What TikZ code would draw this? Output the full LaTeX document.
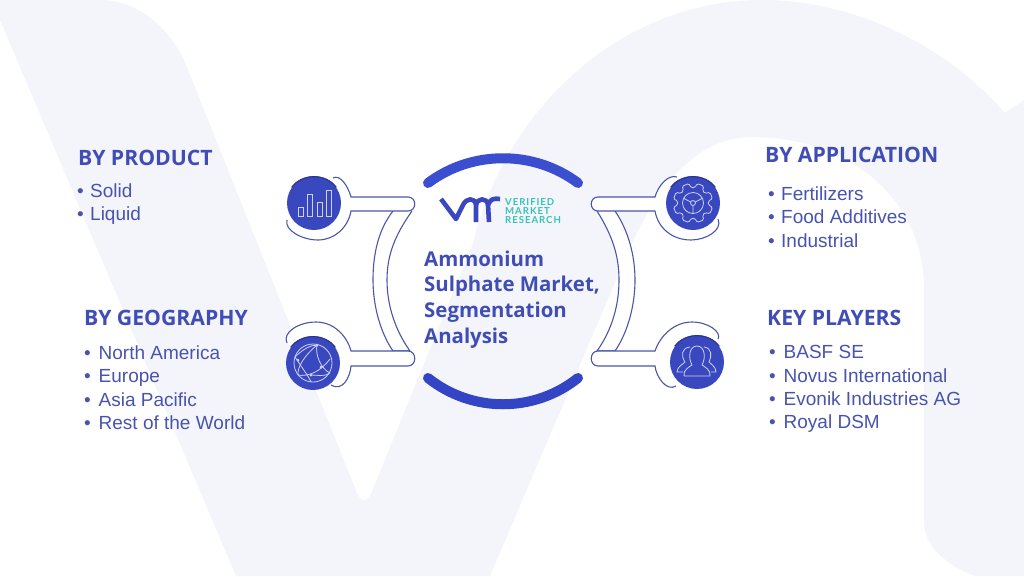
\documentclass[tikz,border=0pt]{standalone}
\usepackage{xcolor}
\usepackage{fontspec}
\usepackage{tikz}
\setmainfont{Liberation Sans}
\newfontfamily\headfont{Open Sans}
\newfontfamily\logofont[LetterSpace=10]{Lato}
\definecolor{paleback}{HTML}{F4F5FB}
\definecolor{inkblue}{HTML}{3F4DB4}
\definecolor{bodyblue}{HTML}{4853AE}
\definecolor{discblue}{HTML}{3A48C0}
\definecolor{discdark}{HTML}{2A3592}
\definecolor{arcblue}{HTML}{3A4ECF}
\definecolor{arcdeep}{HTML}{3345C4}
\definecolor{lineblue}{HTML}{4B56A6}
\definecolor{iconline}{HTML}{CDD2F2}
\definecolor{logoteal}{HTML}{35C2B8}
\newcommand{\bul}[1]{\makebox[#1][l]{\textbullet}}
\tikzset{
	heading/.style={anchor=base west, inner sep=0pt, text=inkblue, font=\headfont\bfseries\fontsize{21.2}{24}\selectfont},
	itemlist/.style={anchor=north west, inner sep=0pt, align=left, text=bodyblue, font=\fontsize{19}{23.3}\selectfont},
	titletext/.style={anchor=north west, inner sep=0pt, align=left, text=inkblue, font=\headfont\bfseries\fontsize{20.4}{25.6}\selectfont},
	logotext/.style={anchor=base west, inner sep=0pt, text=logoteal, font=\logofont\bfseries\fontsize{9.6}{9}\selectfont},
	disc/.style={circle, fill=discblue, minimum size=54pt, inner sep=0pt},
	outline/.style={draw=lineblue, line width=1.1pt, fill=white},
	icon/.style={draw=iconline, line width=0.8pt},
	bigarc/.style={draw=arcblue, line width=10pt, line cap=round},
	logostroke/.style={draw=discblue, line width=4.6pt, line join=round},
}
\begin{document}
\begin{tikzpicture}[x=1pt,y=-1pt]
	\useasboundingbox (0,0) rectangle (1024,576);
	% background letters
	\fill[paleback] (0,0) -- (100,0) .. controls (140,0) and (170,30) .. (185,62) -- (355,488)
		.. controls (360,504) and (368,504) .. (373,489) -- (473,243)
		.. controls (505,110) and (620,0) .. (762,0) .. controls (860,0) and (950,50) .. (1005,113)
		-- (1024,100) -- (1024,576) -- (975,576) .. controls (945,565) and (924,545) .. (924,521) -- (924,288)
		.. controls (924,200) and (850,137) .. (752,137) .. controls (700,137) and (660,180) .. (629,250)
		-- (490,576) -- (236,576) -- (0,20) -- cycle;
	% brackets between the bars
	\draw[outline] (393,211) .. controls (378,230) and (373,255) .. (373,280) .. controls (373,305) and (380,332) .. (393,351)
		-- (410,351) .. controls (395,330) and (387,305) .. (387,280) .. controls (387,255) and (395,235) .. (412,211);
	\draw[outline] (615,211) .. controls (628,230) and (635,255) .. (635,280) .. controls (635,305) and (628,332) .. (615,351)
		-- (597,351) .. controls (612,330) and (619,305) .. (619,280) .. controls (619,255) and (612,235) .. (597,211);
	% top left connector
	\draw[outline] (333,178) .. controls (340,174) and (348,186) .. (351,197) -- (408,197)
		.. controls (417,197) and (417,211) .. (408,211) -- (351,211)
		.. controls (348,228) and (334,240) .. (318,240) .. controls (302,240) and (284,230) .. (287,220);
	% bottom left connector
	\draw[outline] (287,343) .. controls (282,333) and (298,322) .. (316,322) .. controls (334,322) and (347,336) .. (351,351) -- (408,351)
		.. controls (417,351) and (417,366) .. (408,366) -- (351,366)
		.. controls (350,378) and (342,392) .. (331,385);
	% top right connector
	\draw[outline] (677,177) .. controls (668,174) and (658,186) .. (655,197) -- (598,197)
		.. controls (589,197) and (589,211) .. (598,211) -- (655,211)
		.. controls (658,228) and (672,240) .. (691,240) .. controls (706,240) and (723,230) .. (718,219);
	% bottom right connector
	\draw[outline] (718,339) .. controls (722,332) and (708,322) .. (692,322) .. controls (674,322) and (660,336) .. (655,351) -- (598,351)
		.. controls (589,351) and (589,366) .. (598,366) -- (655,366)
		.. controls (656,376) and (666,392) .. (676,386);
	% centre arcs
	\draw[bigarc] (428,183) .. controls (472,150) and (534,150) .. (578,183);
	\draw[bigarc, draw=arcdeep] (428,378) .. controls (472,413) and (534,413) .. (578,378);
	% discs
	\node[disc] at (314,203) (prodicon){};
	\node[disc] at (313,363) (geoicon){};
	\node[disc] at (693,203) (appicon){};
	\node[disc] at (697,362) (keyicon){};
	\foreach \n in {prodicon, geoicon, appicon, keyicon}
		\draw[discdark, line width=1.2pt] (\n.145) to[bend left=55] (\n.35);
	% bar chart icon
	\foreach \xa/\ya in {298/207, 307/194, 317/202, 326/190}
		\draw[icon] (\xa,\ya) rectangle (\xa+5,216);
	% gear icon
	\begin{scope}[shift={(693,203)}]
		\draw[icon, rounded corners=1.5pt] (7.5:15.5) \foreach \a in {0,45,...,315} {
			-- (\a+7.5:15.5) -- (\a+12:20) -- (\a+33:20) -- (\a+37.5:15.5)
		} -- cycle;
		\draw[icon] (0,0) circle (10.5);
		\draw[icon] (0,0) circle (2.5);
		\draw[icon] (-9,-4.5) -- (-2.3,-1) (9,-4.5) -- (2.3,-1) (0,2.5) -- (0,10.5);
	\end{scope}
	% globe icon
	\begin{scope}[shift={(313,363)}]
		\draw[icon] (0,0) circle (19);
		\draw[icon] (-18,-6) .. controls (-10,-14) and (-2,-18) .. (4,-18) .. controls (-8,-8) and (-16,4) .. (-15,12);
		\draw[icon] (-18,-6) .. controls (-10,6) and (-4,14) .. (-2,19);
		\draw[icon] (4,-18) .. controls (2,-8) and (8,6) .. (17,10);
		\draw[icon] (-15,12) .. controls (-4,14) and (8,8) .. (17,-4);
		\draw[icon] (-2,12) .. controls (4,12) and (12,14) .. (17,10);
		\fill[iconline] (4,-18) circle (1.5) (-2,12) circle (1.5) (8,4) circle (1.5) (-15,-3) circle (1.5);
	\end{scope}
	% people icon
	\draw[icon, line join=round] (684,376) -- (710,376) .. controls (711,370) and (705,367) .. (702,365) .. controls (706,358) and (705,346) .. (697,346)
		.. controls (689,346) and (688,358) .. (692,365) .. controls (689,367) and (683,370) .. (684,376);
	\draw[icon, line join=round] (683,372) -- (677,372) .. controls (677,367) and (683,364) .. (685,362) .. controls (681,356) and (681,348) .. (690,347);
	\draw[icon, line join=round] (711,372) -- (716,372) .. controls (716,367) and (711,364) .. (709,362) .. controls (712,356) and (712,348) .. (704,347);
	% logo
	\draw[logostroke] (441,199) -- (456,219) -- (463,205) .. controls (466,198) and (475,197) .. (476,205) -- (476,222);
	\draw[logostroke] (476,205) .. controls (477,198) and (487,197) .. (488,205) -- (489,222);
	\draw[logostroke] (488,205) .. controls (490,199) and (494,198) .. (500,199);
	\node[logotext] at (505,205) (logoa){VERIFIED};
	\node[logotext] at (505,214) (logob){MARKET};
	\node[logotext] at (505,223) (logoc){RESEARCH};
	% centre title
	\node[titletext] at (424,250.5) (title){Ammonium\\Sulphate Market,\\Segmentation\\Analysis};
	% left side
	\node[heading] at (78,165) (prodhead){BY PRODUCT};
	\node[itemlist] at (77,183.5) (prodlist){\bul{13pt}Solid\\\bul{13pt}Liquid};
	\node[heading] at (84,325) (geohead){BY GEOGRAPHY};
	\node[itemlist] at (84,345.5) (geolist){\bul{14.5pt}North America\\\bul{14.5pt}Europe\\\bul{14.5pt}Asia Pacific\\\bul{14.5pt}Rest of the World};
	% right side
	\node[heading] at (765,162.5) (apphead){BY APPLICATION};
	\node[itemlist] at (768,186.5) (applist){\bul{13pt}Fertilizers\\\bul{13pt}Food Additives\\\bul{13pt}Industrial};
	\node[heading] at (767,325) (keyhead){KEY PLAYERS};
	\node[itemlist] at (769,345.5) (keylist){\bul{14.5pt}BASF SE\\\bul{14.5pt}Novus International\\\bul{14.5pt}Evonik Industries AG\\\bul{14.5pt}Royal DSM};
\end{tikzpicture}
\end{document}
